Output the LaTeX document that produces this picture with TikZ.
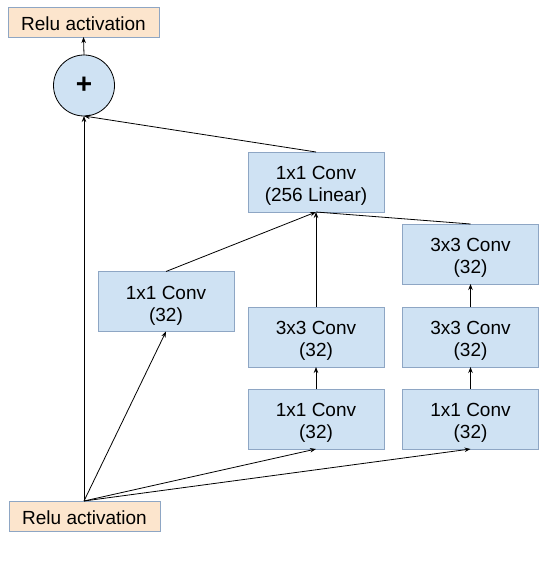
\documentclass[tikz,border=0pt]{standalone}
\usepackage{fontspec}
\setmainfont{Liberation Sans}
\usetikzlibrary{arrows.meta}
\definecolor{boxfill}{HTML}{CFE2F3}
\definecolor{boxline}{HTML}{8EA6C4}
\definecolor{relufill}{HTML}{FCE5CD}
\begin{document}
\begin{tikzpicture}[x=1bp,y=-1bp,
  every node/.style={inner sep=0pt, outer sep=0pt, font=\fontsize{19bp}{22bp}\selectfont, align=center},
  txt/.style={yshift=-4bp, align=center, font=\fontsize{19bp}{22bp}\selectfont},
  rtxt/.style={yshift=-1.5bp, font=\fontsize{19bp}{22bp}\selectfont},
  conv/.style={draw=boxline, fill=boxfill, line width=0.8bp, minimum width=136bp, minimum height=60bp},
  relu/.style={draw=boxline, fill=relufill, line width=0.8bp, minimum width=151bp, minimum height=30bp},
  sumnode/.style={circle, draw=black, fill=boxfill, line width=0.8bp, minimum size=61bp, font=\fontsize{28bp}{28bp}\selectfont\bfseries},
  arr/.style={-{Stealth[length=6bp,width=4.5bp]}, line width=0.8bp},
  ln/.style={line width=0.8bp}]
\useasboundingbox (0,0) rectangle (552,566);
\node[relu, label={[rtxt]center:Relu activation}] (top) at (83.5,22) {};
\node[sumnode] (sum) at (84,85.5) {+};
\node[relu, label={[rtxt]center:Relu activation}] (bot) at (84.5,516) {};
\node[conv, label={[txt]center:{1x1 Conv\\(256 Linear)}}] (lin) at (316,182) {};
\node[conv, label={[txt]center:{1x1 Conv\\(32)}}] (b1) at (166,301.5) {};
\node[conv, label={[txt]center:{3x3 Conv\\(32)}}] (m3) at (316,337) {};
\node[conv, label={[txt]center:{1x1 Conv\\(32)}}] (m1) at (316,419) {};
\node[conv, label={[txt]center:{3x3 Conv\\(32)}}] (r3b) at (470.5,254) {};
\node[conv, label={[txt]center:{3x3 Conv\\(32)}}] (r3a) at (470.5,337) {};
\node[conv, label={[txt]center:{1x1 Conv\\(32)}}] (r1) at (470.5,419) {};
\draw[arr] (sum.north) -- (top.south);
\draw[arr] (bot.north -| sum.south) -- (sum.south);
\draw[arr] (lin.north) -- (sum.south);
\draw[arr] (bot.north -| sum.south) -- (b1.south);
\draw[arr] (bot.north -| sum.south) -- (m1.south);
\draw[arr] (bot.north -| sum.south) -- (r1.south);
\draw[arr] (b1.north) -- (lin.south);
\draw[arr] (m3.north) -- (lin.south);
\draw[ln] (r3b.north) -- (lin.south);
\draw[arr] (m1.north) -- (m3.south);
\draw[arr] (r1.north) -- (r3a.south);
\draw[arr] (r3a.north) -- (r3b.south);
\end{tikzpicture}
\end{document}
